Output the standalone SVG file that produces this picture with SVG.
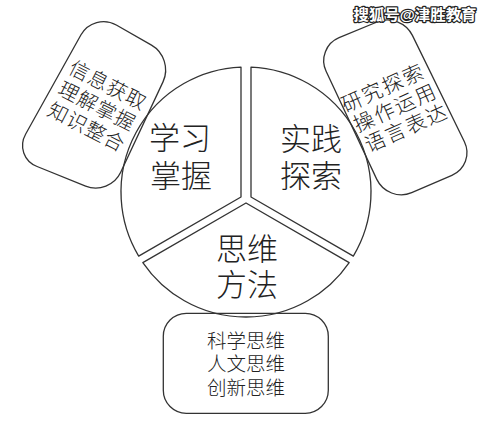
<svg xmlns="http://www.w3.org/2000/svg" width="492" height="437" viewBox="0 0 492 437">
<style>
.ln{fill:none;stroke:#333;stroke-width:1.3;stroke-linejoin:round}
.t{font-family:"Liberation Sans","Noto Sans CJK SC","Noto Sans CJK JP",sans-serif;font-weight:300;fill:#222;text-anchor:middle}
.big{font-size:31px}
.sm{font-size:19.5px}
.bx{font-size:20px;letter-spacing:1px}
.bxr{font-size:20.5px;letter-spacing:1.8px}
.wm{font-family:"Liberation Sans","Noto Sans CJK SC",sans-serif;font-size:15px;font-weight:bold;fill:#fff;stroke:#222;stroke-width:2.4;paint-order:stroke;stroke-linejoin:round;text-anchor:middle}
</style>
<rect width="492" height="437" fill="#fff"/>
<g id="node-left-box">
<path class="ln" d="M116.3 25 L151.5 45.1 C163.9 52.2 169.2 68.6 163.1 81.6 L120.7 172.3 C114.65 185.3 98.9 191.5 85.6 186.1 L37.1 166.5 C23.8 161.1 18.7 146.5 25.7 134 L81 34.8 C88 22.3 103.9 17.9 116.3 25 Z"/>
<text class="t bx" transform="translate(97.5,105.8) rotate(27)"><tspan x="0" y="-15.9">信息获取</tspan><tspan x="0" y="7.6">理解掌握</tspan><tspan x="0" y="31.1">知识整合</tspan></text>
</g>
<g id="node-right-box">
<path class="ln" d="M339.1 37.7 L377 22 C390.2 16.5 406.1 22.5 412.4 35.4 L464.4 141.8 C470.7 154.7 465 169.8 451.9 175.4 L411.7 192.7 C398.6 198.3 382.9 192.3 376.8 179.4 L326.1 71.2 C320.1 58.3 325.9 43.2 339.1 37.7 Z"/>
<text class="t bxr" transform="translate(395,107) rotate(-24)"><tspan x="-3" y="-15">研究探索</tspan><tspan x="0" y="8">操作运用</tspan><tspan x="2" y="31">语言表达</tspan></text>
</g>
<g id="node-study">
<path class="ln" d="M241 67.1 L241 197 L138.67 256.08 A125 125 0 0 1 241 67.1 Z"/>
<text class="t big"><tspan x="180" y="149.3">学习</tspan><tspan x="181" y="186.5">掌握</tspan></text>
</g>
<g id="node-practice">
<path class="ln" d="M251 67.1 L251 197 L353.33 256.08 A125 125 0 0 0 251 67.1 Z"/>
<text class="t big"><tspan x="311" y="149.8">实践</tspan><tspan x="311" y="186.5">探索</tspan></text>
</g>
<g id="node-thinking">
<path class="ln" d="M142.82 262.57 L246 203 L349.18 262.57 A125 125 0 0 1 142.82 262.57 Z"/>
<text class="t big"><tspan x="247" y="260">思维</tspan><tspan x="247" y="296">方法</tspan></text>
</g>
<g id="node-bottom-box">
<rect class="ln" x="163.3" y="313.3" width="165" height="100" rx="23"/>
<text class="t sm"><tspan x="246" y="348.2">科学思维</tspan><tspan x="246" y="371.4">人文思维</tspan><tspan x="246" y="394.9">创新思维</tspan></text>
</g>
<g id="connectors"></g>
<text class="wm" x="415" y="20" textLength="123" lengthAdjust="spacingAndGlyphs">搜狐号@津胜教育</text>
</svg>
